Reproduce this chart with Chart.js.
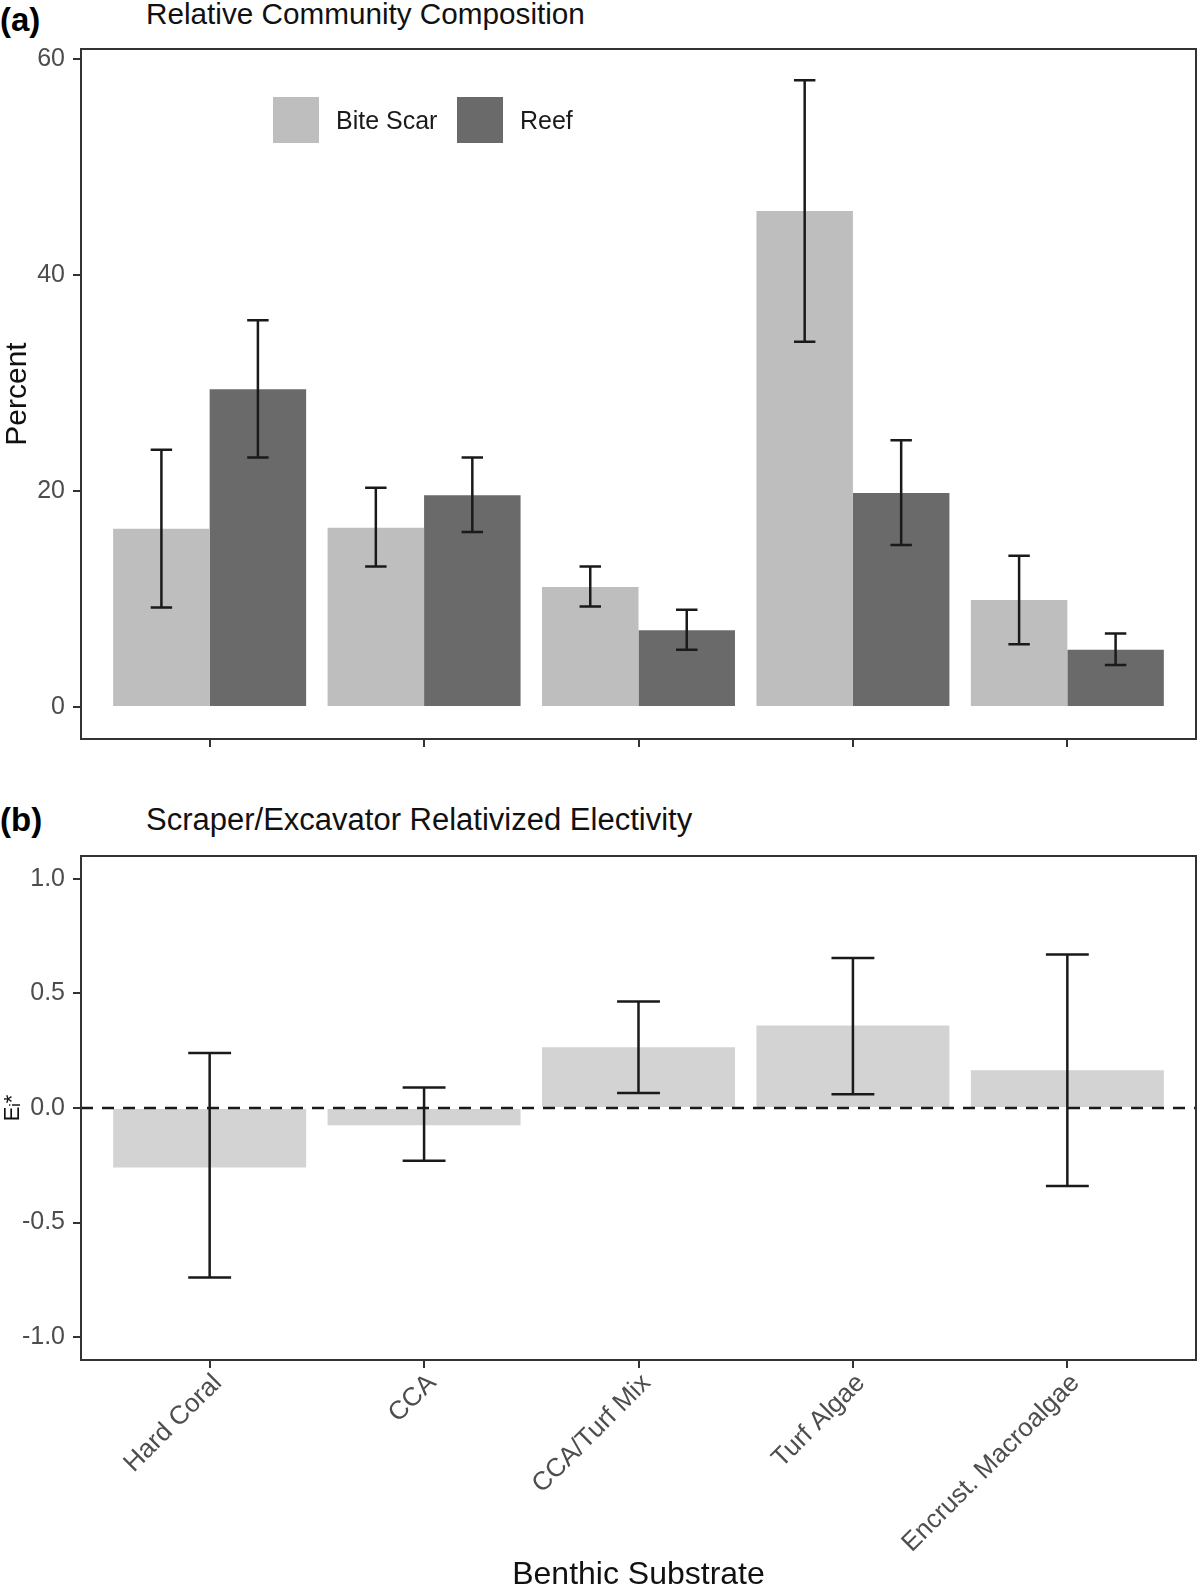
<!DOCTYPE html>
<html>
<head>
<meta charset="utf-8">
<script src="https://cdn.jsdelivr.net/npm/chart.js@4/dist/chart.umd.min.js"></script>
<style>
  body { margin: 0; width: 1200px; height: 1590px; background: #fff; position: relative; overflow: hidden;
         font-family: "Liberation Sans", Arial, sans-serif; }
  canvas { position: absolute; left: 0; }
  .tag { position: absolute; left: 0; font-size: 33px; font-weight: bold; line-height: 1; color: #000; }
  .ttl { position: absolute; left: 146px; line-height: 1; color: #111; white-space: nowrap; }
  .key { position: absolute; top: 97px; width: 46px; height: 46px; }
  .keytxt { position: absolute; top: 120px; transform: translateY(-50%); font-size: 25px; color: #1a1a1a; }
</style>
</head>
<body>
<div class="tag" style="top:3px">(a)</div>
<div class="ttl" style="top:-1px;font-size:29.7px">Relative Community Composition</div>
<div class="tag" style="top:803px">(b)</div>
<div class="ttl" style="top:804px;font-size:31px">Scraper/Excavator Relativized Electivity</div>

<canvas id="chartA" width="1200" height="770" style="top:0"></canvas>
<canvas id="chartB" width="1200" height="830" style="top:760px"></canvas>

<div class="key" style="left:273px;background:#bebebe"></div>
<div class="keytxt" style="left:336px">Bite Scar</div>
<div class="key" style="left:457px;background:#6a6a6a"></div>
<div class="keytxt" style="left:520px">Reef</div>

<script>
// substrate categories (x axis)
const categories = ["Hard Coral", "CCA", "CCA/Turf Mix", "Turf Algae", "Encrust. Macroalgae"];

// (a) relative community composition, percent
const biteScar = [16.5, 16.6, 11.1, 45.9, 9.9];
const biteScarLow = [9.2, 13.0, 9.3, 33.8, 5.8];
const biteScarHigh = [23.8, 20.3, 13.0, 58.0, 14.0];
const reef = [29.4, 19.6, 7.1, 19.8, 5.3];
const reefLow = [23.1, 16.2, 5.3, 15.0, 3.9];
const reefHigh = [35.8, 23.1, 9.0, 24.7, 6.8];
const percentTicks = [0, 20, 40, 60];

// (b) scraper/excavator relativized electivity
const electivity = [-0.26, -0.075, 0.265, 0.36, 0.165];
const electLow = [-0.74, -0.23, 0.065, 0.06, -0.34];
const electHigh = [0.24, 0.09, 0.465, 0.655, 0.67];
const electTicks = [-1, -0.5, 0, 0.5, 1];

const FONT = "'Liberation Sans', Arial, sans-serif";
const TICK_GREY = "#4d4d4d";
const AXIS_COL = "#333333";

function points(vals) {
  return vals.map((v, i) => ({ x: i + 1, y: v }));
}

// frame + optional zero line + error bars
const decorations = {
  id: "decorations",
  afterDatasetsDraw(chart, args, opts) {
    const { ctx, chartArea: a, scales: { x, y } } = chart;
    ctx.save();
    if (opts.zeroLine) {
      const y0 = y.getPixelForValue(0);
      ctx.setLineDash([12, 9]);
      ctx.strokeStyle = "#1a1a1a";
      ctx.lineWidth = 2.5;
      ctx.beginPath();
      ctx.moveTo(a.left, y0);
      ctx.lineTo(a.right, y0);
      ctx.stroke();
      ctx.setLineDash([]);
    }
    ctx.strokeStyle = "#1a1a1a";
    ctx.lineWidth = 2.5;
    chart.data.datasets.forEach((ds, i) => {
      const meta = chart.getDatasetMeta(i);
      const half = x.getPixelForValue(1 + ds.capWidth / 2) - x.getPixelForValue(1);
      meta.data.forEach((bar, j) => {
        const top = y.getPixelForValue(ds.high[j]);
        const bot = y.getPixelForValue(ds.low[j]);
        ctx.beginPath();
        ctx.moveTo(bar.x, top); ctx.lineTo(bar.x, bot);
        ctx.moveTo(bar.x - half, top); ctx.lineTo(bar.x + half, top);
        ctx.moveTo(bar.x - half, bot); ctx.lineTo(bar.x + half, bot);
        ctx.stroke();
      });
    });
    ctx.strokeStyle = AXIS_COL;
    ctx.lineWidth = 2;
    ctx.strokeRect(a.left, a.top, a.right - a.left, a.bottom - a.top);
    ctx.restore();
  }
};

function xScale(showLabels, height) {
  return {
    type: "linear",
    min: 0.4,
    max: 5.6,
    offset: false,
    afterBuildTicks: s => { s.ticks = categories.map((c, i) => ({ value: i + 1 })); },
    afterFit: s => { s.height = height; },
    grid: { offset: false, drawOnChartArea: false, drawTicks: true, tickLength: 8, color: AXIS_COL, lineWidth: 2 },
    border: { display: false },
    ticks: {
      display: showLabels,
      autoSkip: false,
      maxRotation: 45,
      minRotation: 45,
      padding: 0,
      labelOffset: 8,
      color: TICK_GREY,
      font: { family: FONT, size: 26 },
      callback: v => categories[Math.round(v) - 1]
    },
    title: {
      display: showLabels,
      text: "Benthic Substrate",
      color: "#111",
      font: { family: FONT, size: 32, lineHeight: 0.9 },
      padding: { top: 0, bottom: 0 }
    }
  };
}

function yScale(min, max, ticks, fmt, title, titleSize) {
  return {
    min: min,
    max: max,
    afterBuildTicks: s => { s.ticks = ticks.map(v => ({ value: v })); },
    afterFit: s => { s.width = 81; },
    grid: { drawOnChartArea: false, drawTicks: true, tickLength: 8, color: AXIS_COL, lineWidth: 2 },
    border: { display: false },
    ticks: { padding: 8, color: TICK_GREY, font: { family: FONT, size: 25 }, callback: fmt },
    title: { display: true, text: title, color: "#111", font: { family: FONT, size: titleSize },
             padding: { top: 0, bottom: 0 } }
  };
}

const common = {
  responsive: false,
  animation: false,
  events: [],
  plugins: { legend: { display: false }, tooltip: { enabled: false } }
};

new Chart(document.getElementById("chartA"), {
  type: "bar",
  data: {
    datasets: [
      { label: "Bite Scar", data: points(biteScar), backgroundColor: "#bebebe",
        low: biteScarLow, high: biteScarHigh, capWidth: 0.1,
        categoryPercentage: 0.9, barPercentage: 1 },
      { label: "Reef", data: points(reef), backgroundColor: "#6a6a6a",
        low: reefLow, high: reefHigh, capWidth: 0.1,
        categoryPercentage: 0.9, barPercentage: 1 }
    ]
  },
  options: Object.assign({}, common, {
    layout: { padding: { top: 49, right: 4, left: 0, bottom: 0 } },
    scales: {
      x: xScale(false, 31),
      y: yScale(-2.96, 60.9, percentTicks, v => String(v), "Percent", 30)
    },
    plugins: Object.assign({}, common.plugins, { decorations: { zeroLine: false } })
  }),
  plugins: [decorations]
});

new Chart(document.getElementById("chartB"), {
  type: "bar",
  data: {
    datasets: [
      { label: "Electivity", data: points(electivity), backgroundColor: "#d3d3d3",
        low: electLow, high: electHigh, capWidth: 0.2,
        categoryPercentage: 0.9, barPercentage: 1 }
    ]
  },
  options: Object.assign({}, common, {
    layout: { padding: { top: 96, right: 4, left: 0, bottom: 0 } },
    scales: {
      x: xScale(true, 230),
      y: yScale(-1.1, 1.1, electTicks, v => v.toFixed(1), "E\u1d62*", 22)
    },
    plugins: Object.assign({}, common.plugins, { decorations: { zeroLine: true } })
  }),
  plugins: [decorations]
});
</script>
</body>
</html>
